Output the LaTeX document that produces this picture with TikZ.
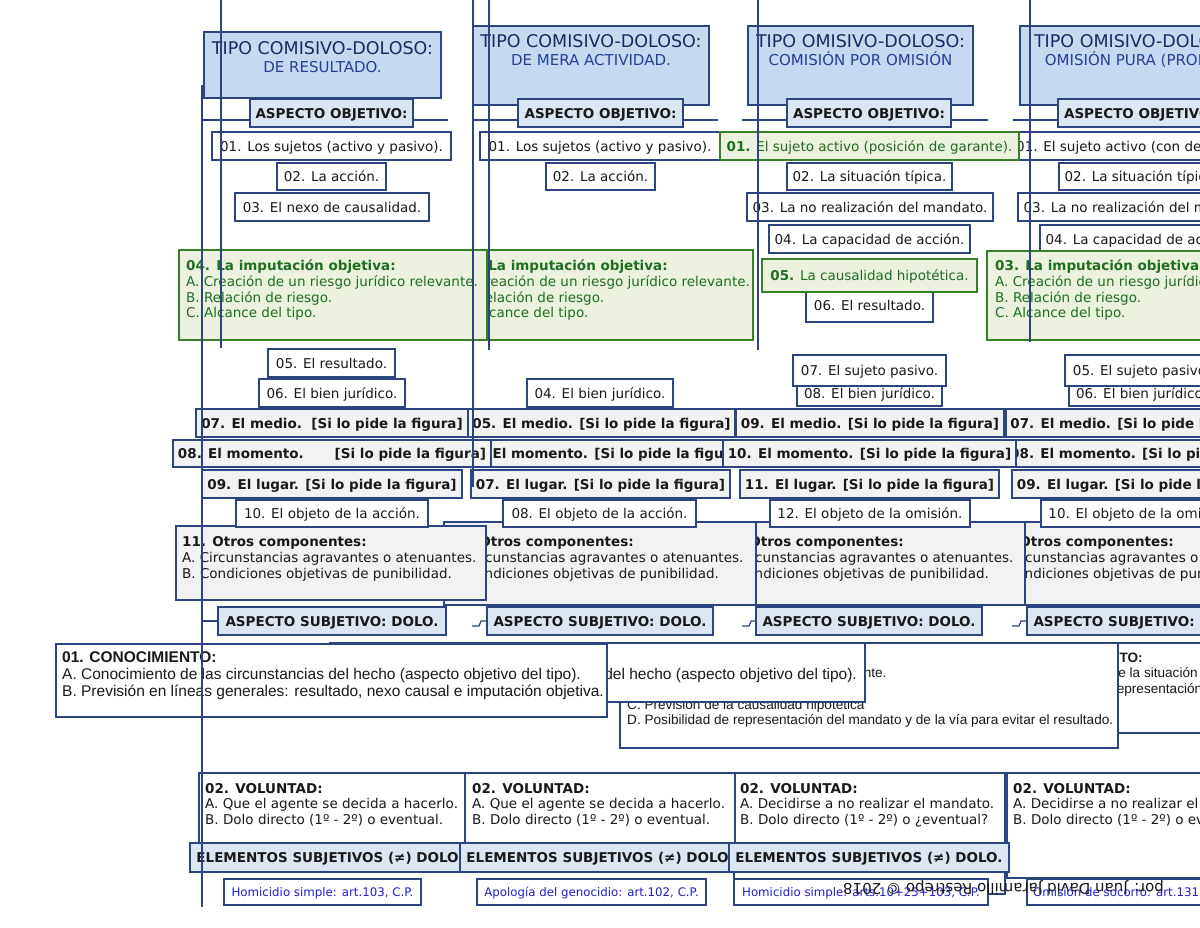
\documentclass[tikz,border=0pt]{standalone}
\usepackage{fontspec}
\setmainfont{DejaVu Sans}
\newfontfamily\arialf{Liberation Sans}
\definecolor{bord}{RGB}{44,68,128}
\definecolor{titlefill}{RGB}{198,217,241}
\definecolor{aspfill}{RGB}{220,230,242}
\definecolor{grayfill}{RGB}{242,242,242}
\definecolor{grnfill}{RGB}{235,241,222}
\definecolor{grnb}{RGB}{56,128,40}
\definecolor{grntext}{RGB}{30,110,30}
\definecolor{navyt}{RGB}{22,44,100}
\definecolor{midblue}{RGB}{35,65,150}
\definecolor{arttext}{RGB}{30,30,210}
\definecolor{txtc}{RGB}{25,25,25}
\newcommand\fs{\fontsize{13.5}{15.8}\selectfont}
\newcommand\bx[7][plainbox]{\node[#1,minimum width={#5-#3},minimum height={#6-#4}] (#2) at ({(#3+#5)/2},{(#4+#6)/2}) {#7};}
\newcommand\mt[5][]{\node[mtext,#1] (#2) at (#3,#4) {\parbox[t]{700pt}{#5}};}
\tikzset{
 plainbox/.style={draw=bord, line width=1.2pt, fill=white, inner sep=0pt, font=\fs, text=txtc, text height=11.5pt, text depth=1.5pt},
 titlebox/.style={plainbox, fill=titlefill},
 aspbox/.style={plainbox, fill=aspfill, font=\fs\bfseries},
 graybox/.style={plainbox, fill=grayfill, font=\fs\bfseries},
 grnbox/.style={plainbox, draw=grnb, fill=grnfill, text=grntext},
 artbox/.style={plainbox, text=arttext, font=\fontsize{11.8}{14}\selectfont, text height=10pt, text depth=1.5pt},
 mtext/.style={anchor=base west, inner sep=0pt, font=\fs, text=txtc},
 ttla/.style={anchor=base, inner sep=0pt, font=\fontsize{17.5}{20}\selectfont, text=navyt},
 ttlb/.style={anchor=base, inner sep=0pt, font=\fontsize{15}{18}\selectfont, text=midblue},
 ln/.style={draw=bord, line width=1.2pt},
 kfont/.style={font=\arialf\fontsize{13.6}{15.7}\selectfont},
 kbig/.style={font=\arialf\fontsize{15.5}{17}\selectfont},
}
\begin{document}
\begin{tikzpicture}[x=1pt,y=-1pt]
\useasboundingbox (0,0) rectangle (1200,927);
\fill[white] (0,0) rectangle (1200,927);
\clip (0,0) rectangle (1200,927);

% ---------- titles
\bx[titlebox]{T1}{204}{32}{441}{98}{}
\node[ttla] (T1a) at (322.5,54.5) {TIPO COMISIVO-DOLOSO:};
\node[ttlb] (T1b) at (322.5,72.5) {DE RESULTADO.};
\bx[titlebox]{T2}{473}{26}{709}{105}{}
\node[ttla] (T2a) at (591,47.5) {TIPO COMISIVO-DOLOSO:};
\node[ttlb] (T2b) at (591,65.5) {DE MERA ACTIVIDAD.};
\bx[titlebox]{T3}{748}{26}{973}{105}{}
\node[ttla] (T3a) at (860.5,47.5) {TIPO OMISIVO-DOLOSO:};
\node[ttlb] (T3b) at (860.5,65.5) {COMISIÓN POR OMISIÓN};
\bx[titlebox]{T4}{1020}{26}{1257}{105}{}
\node[ttla] (T4a) at (1138.5,47.5) {TIPO OMISIVO-DOLOSO:};
\node[ttlb] (T4b) at (1138.5,65.5) {OMISIÓN PURA (PROPIA).};

% ---------- horizontal rules of the objective aspect
\coordinate (h1a) at (202,120); \coordinate (h1b) at (448,120);
\coordinate (h2a) at (473,120); \coordinate (h2b) at (718,120);
\coordinate (h3a) at (742,120); \coordinate (h3b) at (988,120);
\coordinate (h4a) at (1013,120); \coordinate (h4b) at (1230,120);
\draw[ln] (h1a) -- (h1b); \draw[ln] (h2a) -- (h2b);
\draw[ln] (h3a) -- (h3b); \draw[ln] (h4a) -- (h4b);

\bx[aspbox]{A1}{250}{99}{413}{127}{ASPECTO OBJETIVO:}
\bx[aspbox]{A2}{518}{99}{683}{127}{ASPECTO OBJETIVO:}
\bx[aspbox]{A3}{787}{99}{951}{127}{ASPECTO OBJETIVO:}
\bx[aspbox]{A4}{1058}{99}{1222}{127}{ASPECTO OBJETIVO:}

% ---------- row 01
\bx{R1d}{1012}{132}{1320}{160}{}
\node[mtext] (R1dt) at (1016,151) {01. El sujeto activo (con deber de actuar).};
\bx{R1a}{212}{132}{451}{160}{01. Los sujetos (activo y pasivo).}
\bx{R1b}{480}{132}{720}{160}{01. Los sujetos (activo y pasivo).}
\bx[grnbox]{R1c}{720}{132}{1019}{160}{\textbf{01.} El sujeto activo (posición de garante).}
% row 02
\bx{R2a}{277}{163}{386}{190}{02. La acción.}
\bx{R2b}{546}{163}{655}{190}{02. La acción.}
\bx{R2c}{787}{163}{952}{190}{02. La situación típica.}
\bx{R2d}{1059}{163}{1224}{190}{02. La situación típica.}
% row 03
\bx{R3a}{235}{193}{429}{221}{03. El nexo de causalidad.}
\bx{R3c}{747}{193}{993}{221}{03. La no realización del mandato.}
\bx{R3d}{1018}{193}{1264}{221}{03. La no realización del mandato.}
% row 04
\bx{R4c}{769}{225}{970}{253}{04. La capacidad de acción.}
\bx{R4d}{1040}{225}{1241}{253}{04. La capacidad de acción.}

% ---------- imputacion objetiva
\bx[grnbox]{G2}{450}{250}{753}{340}{}
\mt[text=grntext]{G2t}{458}{270.5}{\textbf{04. La imputación objetiva:}\\A. Creación de un riesgo jurídico relevante.\\B. Relación de riesgo.\\C. Alcance del tipo.}
\bx[grnbox]{G1}{179}{250}{487}{340}{}
\mt[text=grntext]{G1t}{186}{270.5}{\textbf{04. La imputación objetiva:}\\A. Creación de un riesgo jurídico relevante.\\B. Relación de riesgo.\\C. Alcance del tipo.}
\bx[grnbox]{G4}{987}{251}{1320}{340}{}
\mt[text=grntext]{G4t}{995}{270.5}{\textbf{03. La imputación objetiva:}\\A. Creación de un riesgo jurídico relevante.\\B. Relación de riesgo.\\C. Alcance del tipo.}
\bx{R6c}{806}{288}{933}{322}{06. El resultado.}
\bx[grnbox]{G3}{762}{259}{977}{292}{\textbf{05.} La causalidad hipotética.}

% ---------- rows 05-06
\bx{B5a}{268}{349}{395}{377}{05. El resultado.}
\bx{B6a}{259}{379}{405}{407}{06. El bien jurídico.}
\bx{B4b}{527}{379}{673}{407}{04. El bien jurídico.}
\bx{B8c}{797}{380}{942}{406}{08. El bien jurídico.}
\bx{B7c}{793}{355}{946}{386}{07. El sujeto pasivo.}
\bx{B6d}{1069}{380}{1214}{406}{06. El bien jurídico.}
\bx{B5d}{1065}{355}{1218}{386}{05. El sujeto pasivo.}

% ---------- medio
\bx[graybox]{M1}{196}{409}{468}{437}{07. El medio.\ \ [Si lo pide la figura]}
\bx[graybox]{M2}{468}{409}{735}{437}{05. El medio. [Si lo pide la figura]}
\bx[graybox]{M3}{736}{409}{1004}{437}{09. El medio. [Si lo pide la figura]}
\bx[graybox]{M4}{1006}{409}{1273}{437}{07. El medio. [Si lo pide la figura]}
% momento
\bx[graybox]{N2}{458}{440}{750}{467}{06. El momento. [Si lo pide la figura]}
\bx[graybox]{N4}{1005}{440}{1320}{467}{}
\node[mtext,font=\fs\bfseries] (N4t) at (1010,458.5) {08. El momento. [Si lo pide la figura]};
\bx[graybox]{N1}{173}{440}{491}{467}{08. El momento.\hspace{31pt}[Si lo pide la figura]}
\bx[graybox]{N3}{723}{440}{1016}{467}{10. El momento. [Si lo pide la figura]}
% lugar
\bx[graybox]{L1}{202}{470}{462}{498}{09. El lugar. [Si lo pide la figura]}
\bx[graybox]{L2}{471}{470}{730}{498}{07. El lugar. [Si lo pide la figura]}
\bx[graybox]{L3}{740}{470}{999}{498}{11. El lugar. [Si lo pide la figura]}
\bx[graybox]{L4}{1012}{470}{1271}{498}{09. El lugar. [Si lo pide la figura]}

% ---------- otros componentes
\bx[graybox]{O4}{983}{522}{1320}{605}{}
\mt{O4t}{989}{546.5}{\textbf{11. Otros componentes:}\\A. Circunstancias agravantes o atenuantes.\\B. Condiciones objetivas de punibilidad.}
\bx[graybox]{O3}{714}{522}{1025}{605}{}
\mt{O3t}{719}{546.5}{\textbf{13. Otros componentes:}\\A. Circunstancias agravantes o atenuantes.\\B. Condiciones objetivas de punibilidad.}
\bx[graybox]{O2}{444}{522}{756}{605}{}
\mt{O2t}{449}{546.5}{\textbf{09. Otros componentes:}\\A. Circunstancias agravantes o atenuantes.\\B. Condiciones objetivas de punibilidad.}
\bx[graybox]{O1}{176}{526}{486}{600}{}
\mt{O1t}{182}{546.5}{\textbf{11. Otros componentes:}\\A. Circunstancias agravantes o atenuantes.\\B. Condiciones objetivas de punibilidad.}

% objeto
\bx{J1}{236}{500}{428}{527}{10. El objeto de la acción.}
\bx{J2}{503}{500}{696}{527}{08. El objeto de la acción.}
\bx{J3}{770}{500}{970}{527}{12. El objeto de la omisión.}
\bx{J4}{1041}{500}{1241}{527}{10. El objeto de la omisión.}

% ---------- aspecto subjetivo
\bx[aspbox]{S1}{218}{607}{446}{635}{ASPECTO SUBJETIVO: DOLO.}
\bx[aspbox]{S2}{487}{607}{713}{635}{ASPECTO SUBJETIVO: DOLO.}
\bx[aspbox]{S3}{756}{607}{982}{635}{ASPECTO SUBJETIVO: DOLO.}
\bx[aspbox]{S4}{1027}{607}{1253}{635}{ASPECTO SUBJETIVO: DOLO.}
\coordinate (s1a) at (202,621);
\draw[ln] (s1a) -- (S1.west);
\coordinate (s2a) at (472,626); \coordinate (s2b) at (479,626); \coordinate (s2c) at (481,621);
\draw[ln] (s2a) -- (s2b) -- (s2c) -- (S2.west);
\coordinate (s3a) at (742,626); \coordinate (s3b) at (749,626); \coordinate (s3c) at (751,621);
\draw[ln] (s3a) -- (s3b) -- (s3c) -- (S3.west);
\coordinate (s4a) at (1012,626); \coordinate (s4b) at (1019,626); \coordinate (s4c) at (1021,621);
\draw[ln] (s4a) -- (s4b) -- (s4c) -- (S4.west);

% ---------- conocimiento
\bx{K4}{1000}{643}{1320}{733}{}
\mt[kfont]{K4t}{1007}{662}{\textbf{01. CONOCIMIENTO:}\\A. Conocimiento de la situación típica.\\B. Posibilidad de representación del mandato.}
\bx{K3}{620}{643}{1118}{748}{}
\mt[kfont]{K3t}{627}{662}{\textbf{01. CONOCIMIENTO:}\\A. Conocimiento de la posición de garante.\\\mbox{}\\C. Previsión de la causalidad hipotética\\D. Posibilidad de representación del mandato y de la vía para evitar el resultado.}
\bx{K2}{330}{643}{865}{702}{}
\mt[kbig]{K2t}{338}{662.5}{\textbf{01. CONOCIMIENTO:}\\A. Conocimiento de las circunstancias del hecho (aspecto objetivo del tipo).}
\bx{K1}{56}{644}{607}{717}{}
\mt[kbig]{K1t}{62}{662.5}{\textbf{01. CONOCIMIENTO:}\\A. Conocimiento de las circunstancias del hecho (aspecto objetivo del tipo).\\B. Previsión en líneas generales: resultado, nexo causal e imputación objetiva.}

% ---------- voluntad
\bx{V1}{199}{773}{465}{843}{}
\mt{V1t}{205}{793}{\textbf{02. VOLUNTAD:}\\A. Que el agente se decida a hacerlo.\\B. Dolo directo (1º - 2º) o eventual.}
\bx{V2}{465}{773}{735}{843}{}
\mt{V2t}{472}{793}{\textbf{02. VOLUNTAD:}\\A. Que el agente se decida a hacerlo.\\B. Dolo directo (1º - 2º) o eventual.}
\bx{V3}{735}{773}{1005}{843}{}
\mt{V3t}{740}{793}{\textbf{02. VOLUNTAD:}\\A. Decidirse a no realizar el mandato.\\B. Dolo directo (1º - 2º) o ¿eventual?}
\bx{V4}{1007}{773}{1320}{878}{}
\mt{V4t}{1013}{793}{\textbf{02. VOLUNTAD:}\\A. Decidirse a no realizar el mandato.\\B. Dolo directo (1º - 2º) o eventual.}
\bx{W}{734}{858}{1005}{894}{}

% elementos subjetivos
\bx[aspbox]{E1}{190}{843}{470}{872}{ELEMENTOS SUBJETIVOS (≠) DOLO.}
\bx[aspbox]{E2}{460}{843}{740}{872}{ELEMENTOS SUBJETIVOS (≠) DOLO.}
\bx[aspbox]{E3}{729}{843}{1009}{872}{ELEMENTOS SUBJETIVOS (≠) DOLO.}

% articulos
\bx[artbox]{P1}{224}{879}{421}{905}{Homicidio simple: art.103, C.P.}
\bx[artbox]{P2}{477}{879}{706}{905}{Apología del genocidio: art.102, C.P.}
\bx[artbox]{P3}{734}{879}{988}{905}{Homicidio simple: arts.10+25+103, C.P.}
\bx[artbox]{P4}{1027}{879}{1270}{905}{}
\node[mtext,font=\fontsize{11.8}{14}\selectfont,text=arttext] (P4t) at (1033,896.5) {Omisión de socorro: art.131, C.P.};

\node[rotate=180, anchor=east, inner sep=0pt, font=\fontsize{15}{17}\selectfont, text=txtc] (sig) at (843,888) {por: Juan David Jaramillo Restrepo © 2018};

% ---------- vertical rules (on top)
\coordinate (va1) at (202,85);  \coordinate (va2) at (202,907);
\coordinate (vb1) at (221,0);   \coordinate (vb2) at (221,348);
\coordinate (vc1) at (473,0);   \coordinate (vc2) at (473,487);
\coordinate (vd1) at (489,0);   \coordinate (vd2) at (489,350);
\coordinate (ve1) at (758,0);   \coordinate (ve2) at (758,350);
\coordinate (vf1) at (1030,0);  \coordinate (vf2) at (1030,342);
\draw[ln] (va1) -- (va2);
\draw[ln] (vb1) -- (vb2);
\draw[ln] (vc1) -- (vc2);
\draw[ln] (vd1) -- (vd2);
\draw[ln] (ve1) -- (ve2);
\draw[ln] (vf1) -- (vf2);
\end{tikzpicture}
\end{document}
